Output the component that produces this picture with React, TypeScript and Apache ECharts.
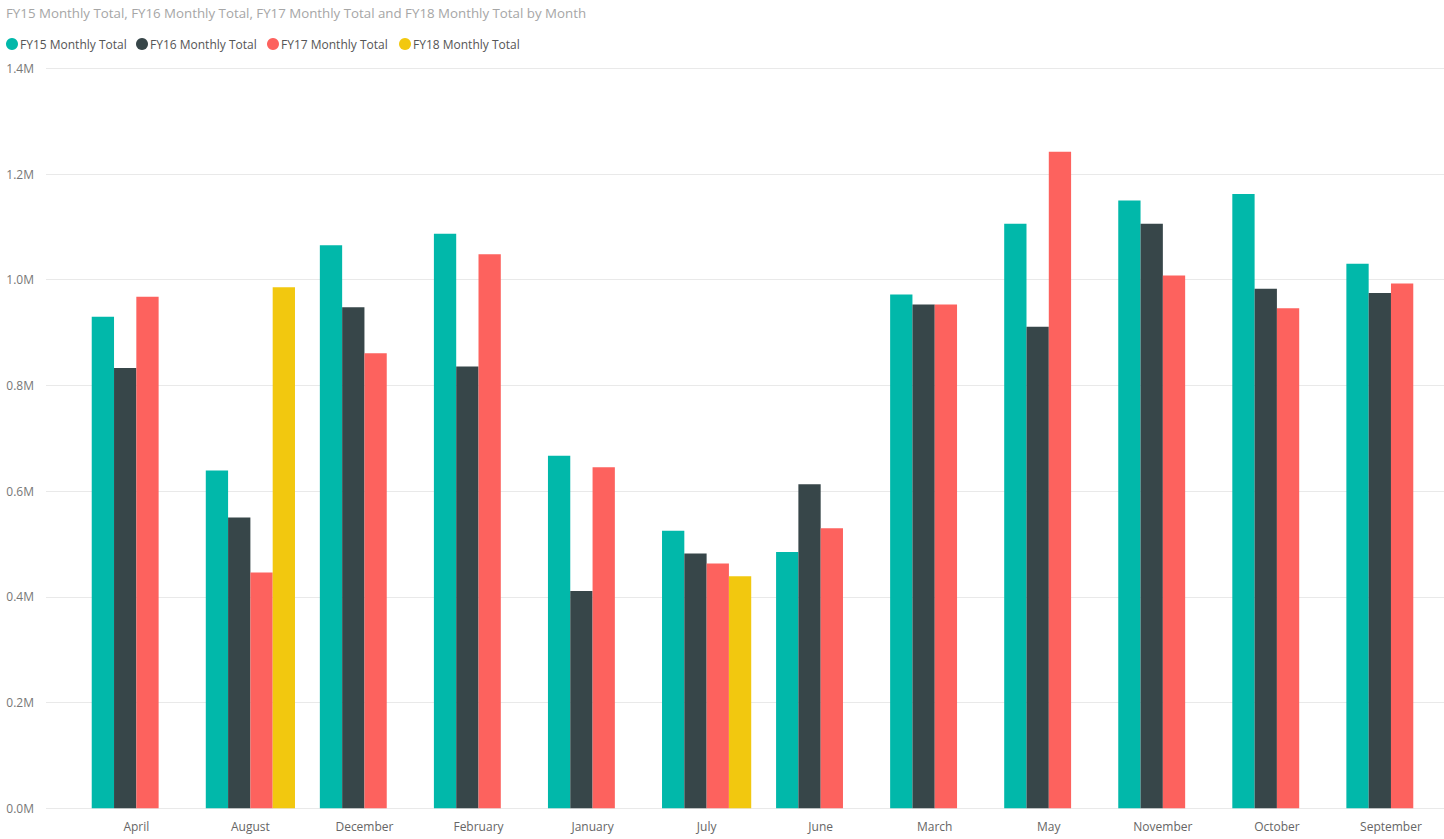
import React, { useEffect, useRef } from "react";
import * as echarts from "echarts";

const months = ["April", "August", "December", "February", "January", "July", "June", "March", "May", "November", "October", "September"];
const fy15 = [930000, 639000, 1065000, 1087000, 667000, 525000, 485000, 972000, 1106000, 1150000, 1162000, 1030000];
const fy16 = [833000, 550000, 948000, 836000, 411000, 482000, 613000, 953000, 911000, 1106000, 983000, 975000];
const fy17 = [968000, 446000, 861000, 1048000, 645000, 463000, 530000, 953000, 1242000, 1008000, 946000, 993000];
const fy18 = [null, 986000, null, null, null, 439000, null, null, null, null, null, null];
const seriesNames = ["FY15 Monthly Total", "FY16 Monthly Total", "FY17 Monthly Total", "FY18 Monthly Total"];
const colors = ["#01B8AA", "#374649", "#FD625E", "#F2C80F"];
const legendLefts = [6, 136, 267, 399];

const FONT = '"Segoe UI", "Open Sans", sans-serif';

export default function App() {
  const ref = useRef<HTMLDivElement>(null);
  useEffect(() => {
    if (!ref.current) return;
    const chart = echarts.init(ref.current, null, { renderer: "svg" });
    const top = 68.3;
    const bottom = 30.7;
    const data = [fy15, fy16, fy17, fy18];
    chart.setOption({
      animation: false,
      textStyle: { fontFamily: FONT },
      title: {
        text: "FY15 Monthly Total, FY16 Monthly Total, FY17 Monthly Total and FY18 Monthly Total by Month",
        left: 6,
        top: 6,
        padding: 0,
        textStyle: { fontSize: 13.3, fontWeight: "normal", color: "#a6a6a6", fontFamily: FONT },
      },
      legend: seriesNames.map((n, i) => ({
        data: [n],
        left: legendLefts[i],
        top: 38,
        padding: 0,
        icon: "circle",
        itemWidth: 12,
        itemHeight: 12,
        selectedMode: false,
        textStyle: { fontSize: 12, color: "#555", fontFamily: FONT, padding: [0, 0, 0, -3] },
      })),
      grid: [
        { left: 46, right: 0, top, bottom },
        { left: 79.3, right: 0, top, bottom },
      ],
      xAxis: [
        { type: "value", gridIndex: 0, show: false, min: 0, max: 1 },
        {
          type: "category",
          gridIndex: 1,
          data: months,
          axisLine: { show: false },
          axisTick: { show: false },
          axisLabel: { color: "#666", fontSize: 12, margin: 12, fontFamily: FONT },
        },
      ],
      yAxis: [
        {
          type: "value",
          gridIndex: 0,
          min: 0,
          max: 1400000,
          interval: 200000,
          axisLine: { show: false },
          axisTick: { show: false },
          axisLabel: {
            color: "#777",
            fontSize: 12,
            margin: 12,
            fontFamily: FONT,
            formatter: (v: number) => (v / 1000000).toFixed(1) + "M",
          },
          splitLine: { lineStyle: { color: "#e9e9e9", width: 1 } },
        },
        {
          type: "value",
          gridIndex: 1,
          min: 0,
          max: 1400000,
          interval: 200000,
          show: false,
          splitLine: { show: false },
        },
      ],
      series: seriesNames.map((n, i) => ({
        name: n,
        type: "bar",
        xAxisIndex: 1,
        yAxisIndex: 1,
        data: data[i],
        barWidth: 22.3,
        barGap: "0%",
        itemStyle: { color: colors[i] },
      })),
    });
    return () => chart.dispose();
  }, []);
  return (
    <div style={{ position: "absolute", left: 0, top: 0, width: 1444, height: 839, overflow: "hidden" }}>
      <div ref={ref} style={{ width: 1448, height: 839 }} />
    </div>
  );
}
